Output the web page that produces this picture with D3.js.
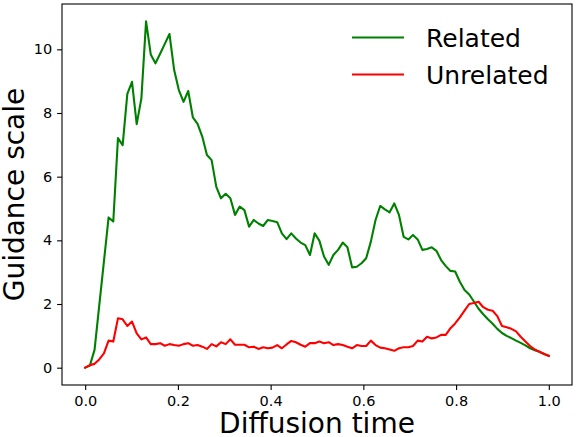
<!DOCTYPE html>
<html>
<head>
<meta charset="utf-8">
<script src="https://cdn.jsdelivr.net/npm/d3@7"></script>
<style>
  html, body { margin: 0; padding: 0; background: #ffffff; }
  svg { display: block; font-family: "DejaVu Sans", sans-serif; }
</style>
</head>
<body>
<svg id="chart"></svg>
<script>
// Guidance scale per diffusion step (100 evenly spaced steps from 0 to 1)
const related = [
  0, 0.07, 0.56, 1.95, 3.33, 4.72, 4.59, 7.21, 6.99, 8.60,
  8.98, 7.65, 8.46, 10.88, 9.84, 9.56, 9.86, 10.17, 10.48, 9.35,
  8.72, 8.35, 8.69, 7.86, 7.66, 7.26, 6.68, 6.52, 5.68, 5.32,
  5.46, 5.32, 4.80, 5.06, 4.95, 4.43, 4.64, 4.53, 4.45, 4.64,
  4.61, 4.57, 4.22, 4.04, 4.22, 4.06, 3.93, 3.85, 3.54, 4.22,
  3.99, 3.49, 3.23, 3.54, 3.70, 3.93, 3.78, 3.15, 3.17, 3.28,
  3.44, 3.96, 4.64, 5.08, 4.97, 4.88, 5.16, 4.80, 4.11, 4.03,
  4.17, 4.03, 3.70, 3.73, 3.78, 3.67, 3.38, 3.19, 3.04, 3.02,
  2.70, 2.44, 2.30, 2.08, 1.85, 1.68, 1.52, 1.38, 1.22, 1.09,
  1.00, 0.93, 0.85, 0.78, 0.70, 0.61, 0.55, 0.50, 0.43, 0.37
];

const unrelated = [
  0, 0.08, 0.12, 0.26, 0.45, 0.85, 0.82, 1.55, 1.52, 1.31,
  1.45, 1.08, 0.89, 0.95, 0.74, 0.74, 0.77, 0.69, 0.74, 0.71,
  0.69, 0.74, 0.77, 0.69, 0.71, 0.66, 0.59, 0.74, 0.67, 0.80,
  0.74, 0.89, 0.72, 0.72, 0.72, 0.64, 0.66, 0.59, 0.64, 0.61,
  0.63, 0.71, 0.61, 0.73, 0.84, 0.80, 0.72, 0.66, 0.77, 0.77,
  0.82, 0.77, 0.80, 0.71, 0.74, 0.71, 0.66, 0.61, 0.71, 0.68,
  0.68, 0.85, 0.71, 0.63, 0.61, 0.57, 0.53, 0.61, 0.64, 0.64,
  0.68, 0.85, 0.82, 0.97, 0.92, 0.95, 1.03, 1.03, 1.24, 1.39,
  1.58, 1.79, 2.00, 2.03, 2.07, 1.90, 1.82, 1.79, 1.62, 1.31,
  1.27, 1.22, 1.14, 0.97, 0.82, 0.68, 0.57, 0.50, 0.43, 0.37
];

const xTicks = [0, 0.2, 0.4, 0.6, 0.8, 1.0];
const yTicks = [0, 2, 4, 6, 8, 10];
const seriesNames = ['Related', 'Unrelated'];
const seriesColors = ['#008000', '#ff0000'];

// Set up the dimensions of the chart
const width = 576;
const height = 437;
const margin = { top: 4, right: 4, bottom: 52, left: 62 };

const svg = d3.select('#chart')
  .attr('width', width)
  .attr('height', height);

// diffusion time of step i
const steps = related.length;
const timeOf = i => i / (steps - 1);

// Scales (matplotlib style 5% padding on both axes)
const xScale = d3.scaleLinear()
  .domain([-0.05, 1.05])
  .range([margin.left, width - margin.right]);

const allValues = related.concat(unrelated);
const yMin = d3.min(allValues), yMax = d3.max(allValues);
const yPad = (yMax - yMin) * 0.05;
const yScale = d3.scaleLinear()
  .domain([yMin - yPad, yMax + yPad])
  .range([height - margin.bottom, margin.top]);

// X axis
const xAxis = svg.append('g')
  .attr('transform', `translate(0, ${height - margin.bottom})`)
  .call(d3.axisBottom(xScale)
    .tickValues(xTicks)
    .tickFormat(d3.format('.1f'))
    .tickSize(4.9)
    .tickPadding(5.5));

// Y axis
const yAxis = svg.append('g')
  .attr('transform', `translate(${margin.left}, 0)`)
  .call(d3.axisLeft(yScale)
    .tickValues(yTicks)
    .tickFormat(d3.format('d'))
    .tickSize(4.9)
    .tickPadding(4.9));

[xAxis, yAxis].forEach(g => {
  g.select('.domain').remove();
  g.selectAll('.tick line').attr('stroke', '#000').attr('stroke-width', 1.1);
  g.selectAll('.tick text')
    .attr('fill', '#000')
    .style('font-family', '"DejaVu Sans", sans-serif')
    .style('font-size', '14.5px');
});

// Lines
const line = d3.line()
  .x((d, i) => xScale(timeOf(i)))
  .y(d => yScale(d));

[related, unrelated].forEach((series, k) => {
  svg.append('path')
    .datum(series)
    .attr('fill', 'none')
    .attr('stroke', seriesColors[k])
    .attr('stroke-width', 2.1)
    .attr('stroke-linejoin', 'round')
    .attr('stroke-linecap', 'square')
    .attr('d', line);
});

// Frame around the plot area
svg.append('rect')
  .attr('x', margin.left)
  .attr('y', margin.top)
  .attr('width', width - margin.left - margin.right)
  .attr('height', height - margin.top - margin.bottom)
  .attr('fill', 'none')
  .attr('stroke', '#000')
  .attr('stroke-width', 1.1);

// Legend
const legend = svg.append('g');
seriesNames.forEach((name, k) => {
  const ly = 37.5 + k * 37;
  legend.append('line')
    .attr('x1', 352).attr('x2', 404)
    .attr('y1', ly).attr('y2', ly)
    .attr('stroke', seriesColors[k])
    .attr('stroke-width', 2.1);
  legend.append('text')
    .attr('x', 426)
    .attr('y', ly + 9)
    .style('font-size', '25px')
    .text(name);
});

// Axis labels
svg.append('text')
  .attr('x', (margin.left + width - margin.right) / 2)
  .attr('y', 433)
  .attr('text-anchor', 'middle')
  .style('font-size', '28px')
  .text('Diffusion time');

svg.append('text')
  .attr('text-anchor', 'middle')
  .attr('transform', `translate(24, ${(margin.top + height - margin.bottom) / 2}) rotate(-90)`)
  .style('font-size', '28px')
  .text('Guidance scale');
</script>
</body>
</html>
